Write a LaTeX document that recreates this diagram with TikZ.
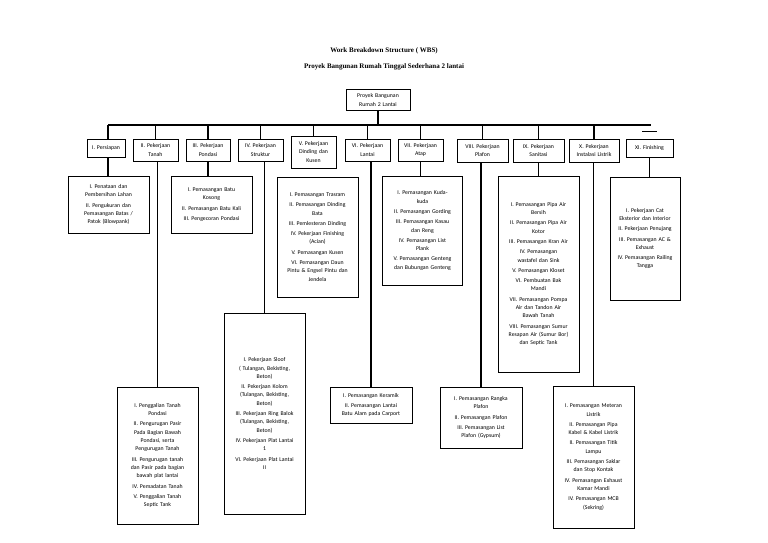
\documentclass[tikz,border=0pt]{standalone}
\usepackage{fontspec}
\setmainfont{Carlito}
\newfontfamily\titlefont{Liberation Serif}
\begin{document}
\begin{tikzpicture}[x=1bp,y=-1bp,
  bx/.style={draw,line width=0.9bp,rectangle,align=center,inner sep=1bp,
    font=\fontsize{5.8bp}{8.3bp}\selectfont},
  ln/.style={line width=1.6bp}]
\useasboundingbox (0,0) rectangle (768,543);
\node[font=\titlefont\bfseries\fontsize{7bp}{8bp}\selectfont] (t1) at (384,51) {Work Breakdown Structure ( WBS)};
\node[font=\titlefont\bfseries\fontsize{7bp}{8bp}\selectfont] (t2) at (384,67) {Proyek Bangunan Rumah Tinggal Sederhana 2 lantai};
\newcommand\bxn[6]{\node[bx,minimum width=#4bp,minimum height=#5bp,text width=#4bp-6bp] (#1) at (#2,#3) {#6};}
\bxn{root}{378}{100}{64}{21}{Proyek Bangunan\\Rumah 2 Lantai}
\bxn{a}{106}{148}{38}{18}{I. Persiapan}
\bxn{b}{155.5}{150}{45}{22}{II. Pekerjaan\\Tanah}
\bxn{c}{208}{150}{44}{22}{III. Pekerjaan\\Pondasi}
\bxn{d}{260.5}{150}{45}{22}{IV. Pekerjaan\\Struktur}
\bxn{e}{313.5}{152}{45}{32}{V. Pekerjaan\\Dinding dan\\Kusen}
\bxn{f}{367.5}{150}{45}{22}{VI. Pekerjaan\\Lantai}
\bxn{g}{420.5}{150}{45}{22}{VII. Pekerjaan\\Atap}
\bxn{h}{482.5}{150.5}{51}{23}{VIII. Pekerjaan\\Plafon}
\bxn{i}{538.5}{150.5}{51}{23}{IX. Pekerjaan\\Sanitasi}
\bxn{j}{594}{150.5}{50}{23}{X. Pekerjaan\\Instalasi Listrik}
\bxn{k}{649.5}{148}{47}{18}{XI. Finishing}
% children
\bxn{ac}{108.5}{204.5}{81}{57}{I. Penataan dan\\Pembersihan Lahan\\[2bp]II. Pengukuran dan\\Pemasangan Batas /\\Patok (Blowpank)}
\bxn{cc}{211.5}{204.5}{81}{57}{I. Pemasangan Batu\\Kosong\\[2bp]II. Pemasangan Batu Kali\\[2bp]III. Pengecoran Pondasi}
\bxn{ec}{317.5}{237}{81}{120}{I. Pemasangan Trasram\\[2bp]II. Pemasangan Dinding\\Bata\\[2bp]III. Pemlesteran Dinding\\[2bp]IV. Pekerjaan Finishing\\(Acian)\\[2bp]V. Pemasangan Kusen\\[2bp]VI. Pemasangan Daun\\Pintu \& Engsel Pintu dan\\Jendela}
\bxn{gc}{422.5}{230.5}{80}{109}{I. Pemasangan Kuda-\\kuda\\[2bp]II. Pemasangan Gording\\[2bp]III. Pemasangan Kasau\\dan Reng\\[2bp]IV. Pemasangan List\\Plank\\[2bp]V. Pemasangan Genteng\\dan Bubungan Genteng}
\bxn{ic}{538.5}{274}{81}{196}{I. Pemasangan Pipa Air\\Bersih\\[2bp]II. Pemasangan Pipa Air\\Kotor\\[2bp]III. Pemasangan Kran Air\\[2bp]IV. Pemasangan\\wastafel dan Sink\\[2bp]V. Pemasangan Kloset\\[2bp]VI. Pembuatan Bak\\Mandi\\[2bp]VII. Pemasangan Pompa\\Air dan Tandon Air\\Bawah Tanah\\[2bp]VIII. Pemasangan Sumur\\Resapan Air (Sumur Bor)\\dan Septic Tank}
\bxn{kc}{645}{238.5}{70}{123}{I. Pekerjaan Cat\\Eksterior dan Interior\\[2bp]II. Pekerjaan Penujang\\[2bp]III. Pemasangan AC \&\\Exhaust\\[2bp]IV. Pemasangan Railing\\Tangga}
\bxn{bl}{157.5}{455.5}{81}{137}{I. Penggalian Tanah\\Pondasi\\[2bp]II. Pengurugan Pasir\\Pada Bagian Bawah\\Pondasi, serta\\Pengurugan Tanah\\[2bp]III. Pengurugan tanah\\dan Pasir pada bagian\\bawah plat lantai\\[2bp]IV. Pemadatan Tanah\\[2bp]V. Penggalian Tanah\\Septic Tank}
\bxn{dl}{264.5}{413.5}{81}{201}{I. Pekerjaan Sloof\\( Tulangan, Bekisting,\\Beton)\\[2bp]II. Pekerjaan Kolom\\(Tulangan, Bekisting,\\Beton)\\[2bp]III. Pekerjaan Ring Balok\\(Tulangan, Bekisting,\\Beton)\\[2bp]IV. Pekerjaan Plat Lantai\\1\\[2bp]VI. Pekerjaan Plat Lantai\\II\\[14bp]}
\bxn{fl}{371}{405}{82}{36}{I. Pemasangan Keramik\\[2bp]II. Pemasangan Lantai\\Batu Alam pada Carport}
\bxn{hl}{481}{417.5}{82}{61}{I. Pemasangan Rangka\\Plafon\\[2bp]II. Pemasangan Plafon\\[2bp]III. Pemasangan List\\Plafon (Gypsum)}
\bxn{jl}{593.5}{457}{81}{142}{I. Pemasangan Meteran\\Listrik\\[2bp]II. Pemasangan Pipa\\Kabel \& Kabel Listrik\\[2bp]II. Pemasangan Titik\\Lampu\\[2bp]III. Pemasangan Saklar\\dan Stop Kontak\\[2bp]IV. Pemasangan Exhaust\\Kamar Mandi\\[2bp]IV. Pemasangan MCB\\(Sekring)}
% connectors
\coordinate (barL) at (108,125);
\coordinate (barR) at (651,125);
\draw[ln] (barL) -- (barR);
\draw[ln] (root.south) -- (root.south|-barL);
\draw[ln] (barL) -- (a.north-|barL);
\draw[ln] (a.south-|barL) -- (ac.north-|barL);
\foreach \n in {b,c,d,e,f,g,h,i,j}{\draw[ln] (\n.north|-barL) -- (\n.north);}
\draw[ln] (b.south) -- (b.south-|bl.north) -- (bl.north);
\draw[ln] (c.south) -- (cc.north-|c.south);
\draw[ln] (d.south) -- (d.south-|dl.north) -- (dl.north);
\draw[ln] (f.south) -- (f.south-|fl.north) -- (fl.north);
\draw[ln] (g.south) -- (gc.north-|g.south);
\draw[ln] (h.south) -- (h.south-|hl.north) -- (hl.north);
\draw[ln] (i.south) -- (ic.north-|i.south);
\draw[ln] (j.south) -- (j.south-|jl.north) -- (jl.north);
\draw[ln] (k.south) -- (kc.north-|k.south);
\coordinate (sl) at (642,132);
\coordinate (sr) at (657,132);
\draw[line width=1bp] (sl) -- (sr);
\end{tikzpicture}
\end{document}
